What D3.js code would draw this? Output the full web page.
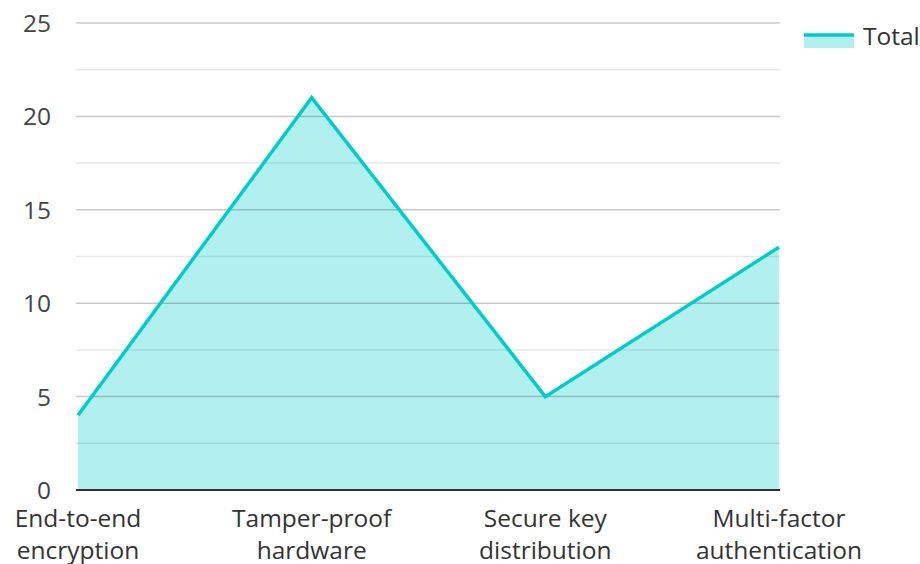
<!DOCTYPE html>
<html><head><meta charset="utf-8">
<script src="https://cdn.jsdelivr.net/npm/d3@7"></script>
<style>html,body{margin:0;padding:0;background:#fff;}svg{display:block;font-family:"Open Sans",sans-serif;}</style>
</head><body>
<svg id="c" width="920" height="564"></svg>
<script>
const categories = [["End-to-end","encryption"],["Tamper-proof","hardware"],["Secure key","distribution"],["Multi-factor","authentication"]];
const values = [4, 21, 5, 13];
const yTicks = [0, 5, 10, 15, 20, 25];
const minorTicks = [2.5, 7.5, 12.5, 17.5, 22.5];
const seriesName = "Total";

const svg = d3.select("#c");
const pLeft = 78, pRight = 779, pTop = 23, pBottom = 490;
const x = d3.scalePoint().domain(d3.range(categories.length)).range([pLeft, pRight]);
const y = d3.scaleLinear().domain([0, 25]).range([pBottom, pTop]);
const lineColor = "#00cccc";
const fs = 24.5;

const area = d3.area().x((d,i)=>x(i)).y0(y(0)).y1(d=>y(d));
const line = d3.line().x((d,i)=>x(i)).y(d=>y(d));

svg.append("path").datum(values).attr("d", area).attr("fill", lineColor).attr("fill-opacity", 0.3);

svg.append("g").selectAll("line").data(minorTicks).join("line")
  .attr("x1", pLeft-2).attr("x2", pRight+1).attr("y1", d=>y(d)).attr("y2", d=>y(d))
  .attr("stroke", "rgba(0,0,0,0.09)").attr("stroke-width", 1.5);
svg.append("g").selectAll("line").data(yTicks.filter(d=>d>0)).join("line")
  .attr("x1", pLeft-2).attr("x2", pRight+1).attr("y1", d=>y(d)).attr("y2", d=>y(d))
  .attr("stroke", "rgba(0,0,0,0.21)").attr("stroke-width", 1.5);

svg.append("path").datum(values).attr("d", line).attr("fill", "none")
  .attr("stroke", lineColor).attr("stroke-width", 3.5).attr("stroke-linejoin", "miter");

svg.append("line").attr("x1", pLeft-2).attr("x2", pRight+1).attr("y1", y(0)).attr("y2", y(0))
  .attr("stroke", "#333").attr("stroke-width", 2);

svg.append("g").selectAll("text").data(yTicks).join("text")
  .attr("x", 51).attr("y", d=>y(d)+9).attr("text-anchor", "end")
  .attr("font-size", fs).attr("fill", "#444").text(d=>d);

const xl = svg.append("g").selectAll("text").data(categories).join("text")
  .attr("x", (d,i)=>x(i)).attr("y", 527).attr("text-anchor", "middle")
  .attr("font-size", fs).attr("fill", "#333");
xl.selectAll("tspan").data(d=>d).join("tspan")
  .attr("x", function(){return d3.select(this.parentNode).attr("x");})
  .attr("dy", (d,i)=>i===0?0:32).text(d=>d);

const lg = svg.append("g");
lg.append("rect").attr("x", 804).attr("y", 35).attr("width", 50).attr("height", 13)
  .attr("fill", lineColor).attr("fill-opacity", 0.3);
lg.append("line").attr("x1", 804).attr("x2", 854).attr("y1", 35).attr("y2", 35)
  .attr("stroke", lineColor).attr("stroke-width", 3.5);
lg.append("text").attr("x", 863).attr("y", 45).attr("font-size", fs).attr("fill", "#333").text(seriesName);
</script>
</body></html>
